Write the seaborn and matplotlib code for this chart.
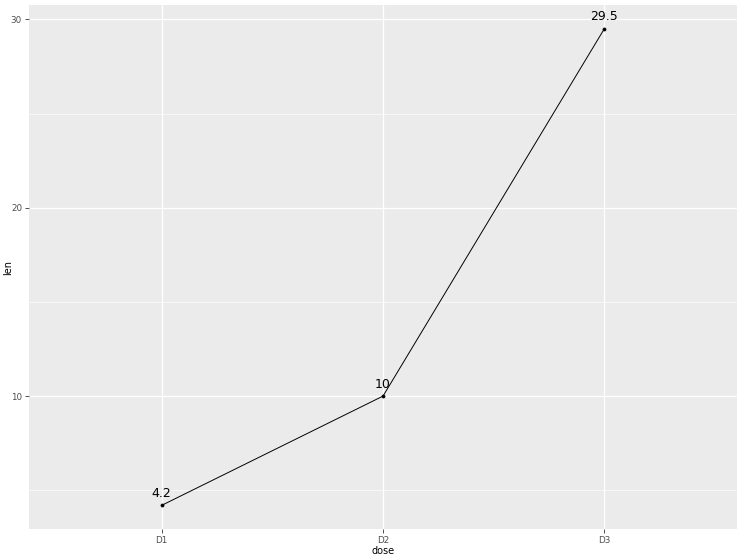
import matplotlib.pyplot as plt
import seaborn as sns
import pandas as pd

# data
dose = ["D1", "D2", "D3"]
length = [4.2, 10, 29.5]

df = pd.DataFrame({"dose": dose, "len": length})

sns.set_theme(style="darkgrid", rc={
    "axes.facecolor": "#EBEBEB",
    "grid.color": "white",
    "axes.edgecolor": "#EBEBEB",
    "xtick.color": "#333333",
    "ytick.color": "#333333",
    "xtick.labelcolor": "#4D4D4D",
    "ytick.labelcolor": "#4D4D4D",
    "xtick.bottom": True,
    "ytick.left": True,
    "xtick.major.size": 3,
    "ytick.major.size": 3,
    "xtick.major.width": 0.6,
    "ytick.major.width": 0.6,
})
plt.rcParams["font.family"] = ["DejaVu Sans"]

fig = plt.figure(figsize=(7.43, 5.57), dpi=100)
ax = fig.add_axes([0.039, 0.050, 0.953, 0.941])

sns.pointplot(data=df, x="dose", y="len", color="black", markersize=2.2,
              linewidth=0.7, ax=ax, errorbar=None)

for i, v in enumerate(length):
    ax.annotate(f"{v:g}", (i, v), xytext=(0, 4), textcoords="offset points",
                ha="center", va="bottom", fontsize=9, color="black")

ax.set_xlim(-0.6, 2.6)
lo, hi = min(length), max(length)
pad = (hi - lo) * 0.05
ax.set_ylim(lo - pad, hi + pad)
ax.set_yticks([10, 20, 30])
ax.set_yticks([5, 15, 25], minor=True)
ax.grid(which="major", color="white", linewidth=0.9)
ax.grid(which="minor", color="white", linewidth=0.45)
ax.tick_params(which="minor", left=False)
ax.tick_params(labelsize=6.3, pad=2)
ax.set_xlabel("dose", fontsize=7, color="black", labelpad=1)
ax.set_ylabel("len", fontsize=7, color="black")
ax.yaxis.set_label_coords(-0.022, 0.5)
for s in ax.spines.values():
    s.set_visible(False)

fig.savefig("out.png", dpi=100)
